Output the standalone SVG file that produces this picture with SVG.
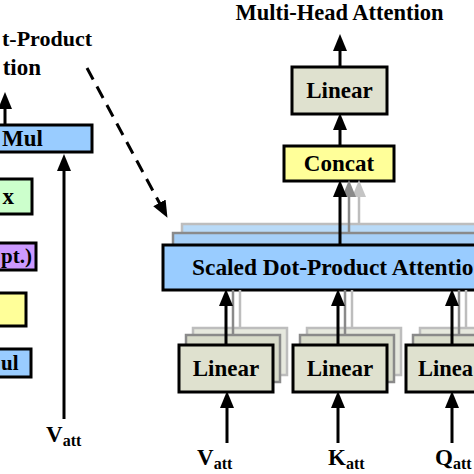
<svg xmlns="http://www.w3.org/2000/svg" width="474" height="474" viewBox="0 0 474 474">
<style>
text{font-family:"Liberation Serif","Times New Roman",serif;font-weight:bold;fill:#000}
.t{font-size:23px}
.bx{font-size:23px;text-anchor:middle}
.lbl{font-size:23px}
.sub{font-size:16px}
.box{stroke:#000;stroke-width:3}
.blue{fill:#99ccff}
.green{fill:#ccffcc}
.purple{fill:#cc99ff}
.yellow{fill:#ffff99}
.lin{fill:#dfe1cf}
.lin2{fill:#d8dbca;stroke:#8a8a8a;stroke-width:2.5}
.lin3{fill:#e6e8de;stroke:#bdbdbd;stroke-width:2.5}
.sd2{fill:#a6cff7;stroke:#8a8a8a;stroke-width:2.5}
.sd3{fill:#b9daf7;stroke:#bdbdbd;stroke-width:2.5}
.ar{stroke:#000;stroke-width:3;fill:none}
.g1{stroke:#8a8a8a;stroke-width:2.5;fill:none}
.g2{stroke:#bdbdbd;stroke-width:2.5;fill:none}
</style>
<defs>
<marker id="ah" viewBox="0 0 17 14" refX="8" refY="7" markerWidth="17" markerHeight="14" markerUnits="userSpaceOnUse" orient="auto"><path d="M0,0 L17,7 L0,14 z" fill="#000"/></marker>
<marker id="ahg" viewBox="0 0 17 14" refX="8" refY="7" markerWidth="17" markerHeight="14" markerUnits="userSpaceOnUse" orient="auto"><path d="M0,0 L17,7 L0,14 z" fill="#8a8a8a"/></marker>
<marker id="ahl" viewBox="0 0 17 14" refX="8" refY="7" markerWidth="17" markerHeight="14" markerUnits="userSpaceOnUse" orient="auto"><path d="M0,0 L17,7 L0,14 z" fill="#c4c4c4"/></marker>
</defs>

<!-- Left: Scaled Dot-Product Attention (partially visible) -->
<g id="left-title">
<text class="t" x="2" y="46" style="font-size:22px">t-Product</text>
<text class="t" x="41" y="75" text-anchor="end">tion</text>
</g>
<g id="left-matmul-top"><rect class="box blue" x="-60" y="125" width="152" height="27"/><text class="t" x="43" y="146" text-anchor="end">Mul</text></g>
<g id="left-softmax"><rect class="box green" x="-80" y="179" width="112" height="35"/><text class="t" x="14" y="204" text-anchor="end">x</text></g>
<g id="left-mask"><rect class="box purple" x="-80" y="243" width="116" height="27"/><text class="t" x="1" y="263" style="font-size:21px">pt.)</text></g>
<g id="left-scale"><rect class="box yellow" x="-80" y="293" width="106" height="33"/></g>
<g id="left-matmul-bot"><rect class="box blue" x="-80" y="349" width="111" height="28"/><text class="t" x="1" y="370" style="font-size:21px">ul</text></g>
<g id="left-vatt"><text class="lbl" x="46" y="442">V<tspan class="sub" dy="4">att</tspan></text></g>

<!-- Right: Multi-Head Attention -->
<g id="mha-title"><text class="t" x="339.5" y="20" text-anchor="middle" style="font-size:22.5px">Multi-Head Attention</text></g>
<g id="linear-out"><rect class="box lin" x="292" y="67" width="95" height="47"/><text class="bx" x="339.5" y="98">Linear</text></g>
<g id="concat"><rect class="box yellow" x="284" y="146" width="110" height="35"/><text class="bx" x="339" y="171">Concat</text></g>
<g id="sdpa">
<rect class="sd3" x="182" y="224" width="320" height="45"/>
<rect class="sd2" x="173" y="233" width="320" height="45"/>
<rect class="box blue" x="163" y="245" width="330" height="45"/>
<text class="lbl" x="192" y="275" style="font-size:23.4px">Scaled Dot-Product Attentio</text>
</g>
<g id="linear-v">
<rect class="lin3" x="193" y="328" width="94" height="47"/>
<rect class="lin2" x="186" y="335" width="94" height="47"/>
<rect class="box lin" x="179" y="345" width="94" height="47"/>
<text class="bx" x="226" y="376">Linear</text>
</g>
<g id="linear-k">
<rect class="lin3" x="307" y="328" width="94" height="47"/>
<rect class="lin2" x="300" y="335" width="94" height="47"/>
<rect class="box lin" x="293" y="345" width="94" height="47"/>
<text class="bx" x="340" y="376">Linear</text>
</g>
<g id="linear-q">
<rect class="lin3" x="420" y="328" width="94" height="47"/>
<rect class="lin2" x="413" y="335" width="94" height="47"/>
<rect class="box lin" x="406" y="345" width="94" height="47"/>
<text class="t" x="418" y="376" style="font-size:22.5px">Linea</text>
</g>
<g id="labels">
<text class="lbl" x="197" y="465">V<tspan class="sub" dy="4">att</tspan></text>
<text class="lbl" x="328" y="465">K<tspan class="sub" dy="4">att</tspan></text>
<text class="lbl" x="435" y="465">Q<tspan class="sub" dy="4">att</tspan></text>
</g>

<g id="connectors">
<!-- left -->
<line class="ar" x1="5" y1="125" x2="5" y2="101" marker-end="url(#ah)"/>
<line class="ar" x1="64" y1="419" x2="64" y2="163" marker-end="url(#ah)"/>
<line class="ar" x1="87" y1="68" x2="163.2" y2="209.9" stroke-dasharray="13,8" marker-end="url(#ah)"/>
<!-- top -->
<line class="ar" x1="340" y1="67" x2="340" y2="43" marker-end="url(#ah)"/>
<line class="ar" x1="340" y1="146" x2="340" y2="122" marker-end="url(#ah)"/>
<line class="g2" x1="359" y1="224" x2="359" y2="189" marker-end="url(#ahl)"/>
<line class="g1" x1="349" y1="233" x2="349" y2="189" marker-end="url(#ahg)"/>
<line class="ar" x1="340" y1="245" x2="340" y2="189" marker-end="url(#ah)"/>
<!-- linear to sdpa -->
<line class="g2" x1="240" y1="328" x2="240" y2="290"/>
<line class="g1" x1="233" y1="335" x2="233" y2="290"/>
<line class="ar" x1="226" y1="345" x2="226" y2="298" marker-end="url(#ah)"/>
<line class="g2" x1="352" y1="328" x2="352" y2="290"/>
<line class="g1" x1="345" y1="335" x2="345" y2="290"/>
<line class="ar" x1="338" y1="345" x2="338" y2="298" marker-end="url(#ah)"/>
<line class="g2" x1="466" y1="328" x2="466" y2="290"/>
<line class="g1" x1="459" y1="335" x2="459" y2="290"/>
<line class="ar" x1="452" y1="345" x2="452" y2="298" marker-end="url(#ah)"/>
<!-- inputs -->
<line class="ar" x1="227" y1="443" x2="227" y2="400" marker-end="url(#ah)"/>
<line class="ar" x1="338" y1="443" x2="338" y2="400" marker-end="url(#ah)"/>
<line class="ar" x1="452" y1="443" x2="452" y2="400" marker-end="url(#ah)"/>
</g>
</svg>
